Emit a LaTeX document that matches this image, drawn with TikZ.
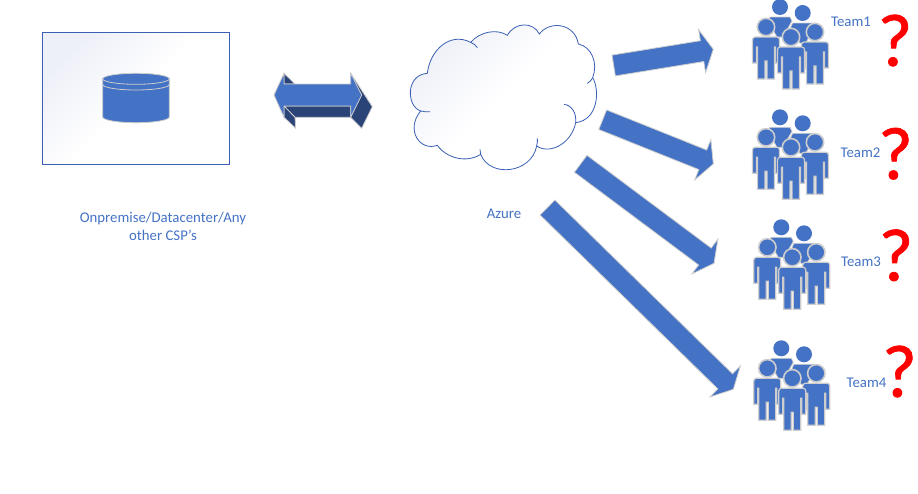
\documentclass[tikz,border=0pt]{standalone}
\usepackage{fontspec}
\setmainfont{Carlito}
\newfontfamily\queryfont[FakeBold=1]{Carlito}
\usepackage{xcolor}
\definecolor{officeblue}{RGB}{68,114,196}
\definecolor{darkface}{RGB}{42,68,120}
\definecolor{edgegrey}{RGB}{205,205,205}
\definecolor{boxblue}{RGB}{58,95,180}
\definecolor{paleblue}{RGB}{238,240,248}
\usetikzlibrary{calc}
\newcommand{\widthshaft}{7.9pt}
\newcommand{\widthhead}{16.3pt}
\newcommand{\lengthhead}{8.5pt}
\tikzset{
    caption/.style={text=officeblue, font=\fontsize{11.1}{13.5}\selectfont, align=center, inner sep=0pt},
    query/.style={text=red, font=\fontsize{56}{56}\queryfont, inner sep=0pt},
    pale/.style={shading=axis, top color=paleblue, bottom color=white, middle color=white, shading angle=45},
    solid face/.style={fill=officeblue, draw=edgegrey, line width=.6pt},
    dark face/.style={fill=darkface, draw=edgegrey, line width=.6pt},
    blockarrow/.style={solid face, line join=miter, to path={
        ($(\tikztostart)!\widthshaft!90:(\tikztotarget)$)
        -- ($(\tikztotarget)!\lengthhead!(\tikztostart)!\widthshaft!90:(\tikztotarget)$)
        -- ($(\tikztotarget)!\lengthhead!(\tikztostart)!\widthhead!90:(\tikztotarget)$)
        -- (\tikztotarget)
        -- ($(\tikztotarget)!\lengthhead!(\tikztostart)!\widthhead!-90:(\tikztotarget)$)
        -- ($(\tikztotarget)!\lengthhead!(\tikztostart)!\widthshaft!-90:(\tikztotarget)$)
        -- ($(\tikztostart)!\widthshaft!-90:(\tikztotarget)$)
        -- cycle
    }},
    backperson/.pic={
        \path[solid face] (-12,14) -- (-10,10) -- (10,10) -- (12,14) -- (3,30) -- (-3,30) -- cycle;
        \path[fill=officeblue] (0,0) circle (8);
    },
    frontperson/.pic={
        \path[solid face, line width=.9pt] (-13.5,13) [rounded corners=2pt] -- (-13.5,10) -- (13.5,10) [sharp corners] -- (13.5,36)
            -- (9.5,36) -- (9.5,20) -- (8.5,20) -- (8.5,52) -- (1,52) -- (1,34) -- (-1,34) -- (-1,52)
            -- (-8.5,52) -- (-8.5,20) -- (-9.5,20) -- (-9.5,36) -- (-13.5,36) -- cycle;
        \path[solid face, line width=1.2pt] (0,0) circle (8.7);
    },
    team/.pic={
        \pic at (0,0) {backperson};
        \pic at (22.7,6) {backperson};
        \pic at (-14,20) {frontperson};
        \pic at (35,25) {frontperson};
        \pic at (11,30) {frontperson};
    }
}

\begin{document}
\begin{tikzpicture}[x=.75pt, y=-.75pt]
    \useasboundingbox (0,0) rectangle (918,493);

    % left box with the disk
    \node[draw=boxblue, line width=.7pt, pale, minimum width=140.5pt, minimum height=99pt, inner sep=0pt] (datacenter) at (136,98.3) {};
    \path[solid face] (102.7,78.8) -- (102.7,117) arc[start angle=180, end angle=0, x radius=33.3, y radius=5.7]
        -- (169.3,78.8) -- cycle;
    \path[solid face] (102.7,78.8) arc[start angle=180, end angle=-180, x radius=33.3, y radius=5.5];
    \draw[edgegrey, line width=.6pt] (102.7,84.5) arc[start angle=180, end angle=0, x radius=33.3, y radius=5.5];
    \node[caption] (datacenter-text) at (163,226) {Onpremise/Datacenter/Any\\other CSP’s};

    % double arrow
    \path[dark face] (284,73.3) -- (295,84) -- (284,84) -- cycle;
    \path[dark face] (350.7,73.3) -- (372.3,106.7) -- (361.7,128.3) -- (350.7,117.3) -- cycle;
    \path[dark face] (284,106) -- (350.7,106) -- (350.7,117.3) -- (295,117.3) -- cycle;
    \path[dark face] (284,106) -- (295,117.3) -- (295.7,128.3) -- (284,117.3) -- cycle;
    \path[solid face] (274,95) -- (284,73.3) -- (284,84) -- (350.7,84) -- (350.7,73.3) -- (361.7,95)
        -- (350.7,117.3) -- (350.7,106) -- (284,106) -- (284,117.3) -- cycle;

    % cloud
    \begin{scope}[shift={(400,10)}, x=.25pt, y=-.25pt]
        \path[draw=boxblue, line width=.6pt, pale] (82,190) .. controls (90,120) and (150,65) .. (212,97)
            .. controls (240,65) and (290,55) .. (322,76)
            .. controls (345,35) and (400,35) .. (418,72)
            .. controls (450,30) and (525,40) .. (535,102)
            .. controls (575,110) and (595,160) .. (578,203)
            .. controls (600,240) and (595,330) .. (527,338)
            .. controls (515,400) and (450,435) .. (410,408)
            .. controls (395,490) and (270,505) .. (242,433)
            .. controls (200,460) and (140,445) .. (112,406)
            .. controls (60,425) and (15,360) .. (62,303)
            .. controls (20,290) and (15,195) .. (82,190);
        \draw[boxblue, line width=.6pt]
            (212,97) .. controls (220,100) and (228,106) .. (232,113)
            (578,203) .. controls (575,210) and (570,216) .. (562,220)
            (492,283) .. controls (515,285) and (530,310) .. (527,338)
            (412,385) .. controls (413,392) and (412,400) .. (410,408)
            (240,418) .. controls (240,424) and (241,428) .. (242,433)
            (90,305) .. controls (80,306) and (70,305) .. (62,303);
    \end{scope}
    \node[caption] (azure-text) at (504,213.5) {Azure};

    % arrows to the teams
    \coordinate (A1-tail) at (613.7,65.5);
    \coordinate (A1-tip) at (713.3,49.3);
    \coordinate (A2-tail) at (602.7,119.7);
    \coordinate (A2-tip) at (713.3,164);
    \coordinate (A3-tail) at (580.7,163.8);
    \coordinate (A3-tip) at (714,263.3);
    \coordinate (A4-tail) at (547.5,207.5);
    \coordinate (A4-tip) at (733.3,389.3);
    \draw[blockarrow] (A1-tail) to (A1-tip);
    \draw[blockarrow] (A2-tail) to (A2-tip);
    \draw[blockarrow] (A3-tail) to (A3-tip);
    \draw[blockarrow] (A4-tail) to (A4-tip);

    % teams
    \pic at (780,7) {team};
    \pic at (780,117.3) {team};
    \pic at (781.3,227.3) {team};
    \pic at (781.3,348.3) {team};

    \node[caption] (T1-text) at (851,22) {Team1};
    \node[caption] (T2-text) at (860.5,153) {Team2};
    \node[caption] (T3-text) at (861,262) {Team3};
    \node[caption] (T4-text) at (866.5,383) {Team4};

    \node[query] (Q1) at (895,40.5) {?};
    \node[query] (Q2) at (895.5,153.7) {?};
    \node[query] (Q3) at (896,255.3) {?};
    \node[query] (Q4) at (899.5,371.5) {?};
\end{tikzpicture}
\end{document}
